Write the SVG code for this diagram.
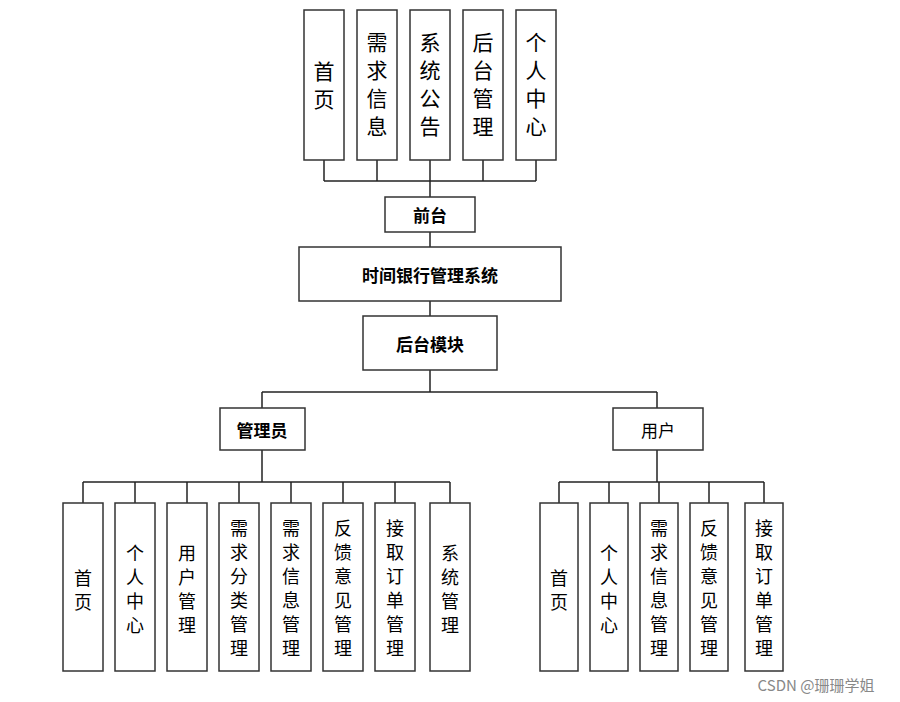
<svg xmlns="http://www.w3.org/2000/svg" width="900" height="702" viewBox="0 0 900 702">
<style>
rect{fill:#fff;stroke:#333;stroke-width:1.5}
text{font-family:"Noto Sans CJK SC","Liberation Sans",sans-serif;fill:#000;text-anchor:middle;dominant-baseline:central}
.v1{font-size:21px}
.v2{font-size:18px}
.b{font-size:17px;font-weight:bold}
.c line{stroke:#222;stroke-width:1.5}
</style>
<rect x="0" y="0" width="900" height="702" style="stroke:none"/>
<g class="c">
<line x1="324" y1="160" x2="324" y2="181"/><line x1="377" y1="160" x2="377" y2="181"/><line x1="430" y1="160" x2="430" y2="197"/><line x1="483" y1="160" x2="483" y2="181"/><line x1="536" y1="160" x2="536" y2="181"/>
<line x1="324" y1="181" x2="536" y2="181"/>
<line x1="430" y1="232" x2="430" y2="247"/><line x1="430" y1="301" x2="430" y2="316"/><line x1="430" y1="370" x2="430" y2="392"/>
<line x1="262" y1="392" x2="657" y2="392"/><line x1="262" y1="392" x2="262" y2="408"/><line x1="657" y1="392" x2="657" y2="408"/>
<line x1="262" y1="450" x2="262" y2="482"/><line x1="83" y1="482" x2="450" y2="482"/>
<line x1="83" y1="482" x2="83" y2="503"/><line x1="135" y1="482" x2="135" y2="503"/><line x1="187" y1="482" x2="187" y2="503"/><line x1="239" y1="482" x2="239" y2="503"/><line x1="291" y1="482" x2="291" y2="503"/><line x1="343" y1="482" x2="343" y2="503"/><line x1="395" y1="482" x2="395" y2="503"/><line x1="450" y1="482" x2="450" y2="503"/>
<line x1="657" y1="450" x2="657" y2="482"/><line x1="559" y1="482" x2="764" y2="482"/>
<line x1="559" y1="482" x2="559" y2="503"/><line x1="609" y1="482" x2="609" y2="503"/><line x1="659" y1="482" x2="659" y2="503"/><line x1="709" y1="482" x2="709" y2="503"/><line x1="764" y1="482" x2="764" y2="503"/>
</g>
<g id="t1"><rect x="304" y="10" width="40" height="150"/><text class="v1" x="324" y="70">首</text><text class="v1" x="324" y="98">页</text></g>
<g id="t2"><rect x="357" y="10" width="40" height="150"/><text class="v1" x="377" y="41">需</text><text class="v1" x="377" y="69">求</text><text class="v1" x="377" y="97">信</text><text class="v1" x="377" y="125">息</text></g>
<g id="t3"><rect x="410" y="10" width="40" height="150"/><text class="v1" x="430" y="41">系</text><text class="v1" x="430" y="69">统</text><text class="v1" x="430" y="97">公</text><text class="v1" x="430" y="125">告</text></g>
<g id="t4"><rect x="463" y="10" width="40" height="150"/><text class="v1" x="483" y="41">后</text><text class="v1" x="483" y="69">台</text><text class="v1" x="483" y="97">管</text><text class="v1" x="483" y="125">理</text></g>
<g id="t5"><rect x="516" y="10" width="40" height="150"/><text class="v1" x="536" y="41">个</text><text class="v1" x="536" y="69">人</text><text class="v1" x="536" y="97">中</text><text class="v1" x="536" y="125">心</text></g>
<g id="qt"><rect x="385" y="197" width="90" height="35"/><text class="b" x="430" y="214.5">前台</text></g>
<g id="sys"><rect x="299" y="247" width="262" height="54"/><text class="b" x="430" y="274">时间银行管理系统</text></g>
<g id="ht"><rect x="363" y="316" width="134" height="54"/><text class="b" x="430" y="343">后台模块</text></g>
<g id="adm"><rect x="220" y="408" width="85" height="42"/><text class="b" x="262" y="429">管理员</text></g>
<g id="usr"><rect x="613" y="408" width="90" height="42"/><text style="font-size:17px" x="658" y="429">用户</text></g>
<g id="a1"><rect x="63" y="503" width="40" height="168"/><text class="v2" x="83" y="577">首</text><text class="v2" x="83" y="601">页</text></g>
<g id="a2"><rect x="115" y="503" width="40" height="168"/><text class="v2" x="135" y="552">个</text><text class="v2" x="135" y="576">人</text><text class="v2" x="135" y="600">中</text><text class="v2" x="135" y="624">心</text></g>
<g id="a3"><rect x="167" y="503" width="40" height="168"/><text class="v2" x="187" y="552">用</text><text class="v2" x="187" y="576">户</text><text class="v2" x="187" y="600">管</text><text class="v2" x="187" y="624">理</text></g>
<g id="a4"><rect x="219" y="503" width="40" height="168"/><text class="v2" x="239" y="527">需</text><text class="v2" x="239" y="551">求</text><text class="v2" x="239" y="575">分</text><text class="v2" x="239" y="599">类</text><text class="v2" x="239" y="623">管</text><text class="v2" x="239" y="647">理</text></g>
<g id="a5"><rect x="271" y="503" width="40" height="168"/><text class="v2" x="291" y="527">需</text><text class="v2" x="291" y="551">求</text><text class="v2" x="291" y="575">信</text><text class="v2" x="291" y="599">息</text><text class="v2" x="291" y="623">管</text><text class="v2" x="291" y="647">理</text></g>
<g id="a6"><rect x="323" y="503" width="40" height="168"/><text class="v2" x="343" y="527">反</text><text class="v2" x="343" y="551">馈</text><text class="v2" x="343" y="575">意</text><text class="v2" x="343" y="599">见</text><text class="v2" x="343" y="623">管</text><text class="v2" x="343" y="647">理</text></g>
<g id="a7"><rect x="375" y="503" width="40" height="168"/><text class="v2" x="395" y="527">接</text><text class="v2" x="395" y="551">取</text><text class="v2" x="395" y="575">订</text><text class="v2" x="395" y="599">单</text><text class="v2" x="395" y="623">管</text><text class="v2" x="395" y="647">理</text></g>
<g id="a8"><rect x="430" y="503" width="40" height="168"/><text class="v2" x="450" y="552">系</text><text class="v2" x="450" y="576">统</text><text class="v2" x="450" y="600">管</text><text class="v2" x="450" y="624">理</text></g>
<g id="u1"><rect x="540" y="503" width="38" height="168"/><text class="v2" x="559" y="577">首</text><text class="v2" x="559" y="601">页</text></g>
<g id="u2"><rect x="590" y="503" width="38" height="168"/><text class="v2" x="609" y="552">个</text><text class="v2" x="609" y="576">人</text><text class="v2" x="609" y="600">中</text><text class="v2" x="609" y="624">心</text></g>
<g id="u3"><rect x="640" y="503" width="38" height="168"/><text class="v2" x="659" y="527">需</text><text class="v2" x="659" y="551">求</text><text class="v2" x="659" y="575">信</text><text class="v2" x="659" y="599">息</text><text class="v2" x="659" y="623">管</text><text class="v2" x="659" y="647">理</text></g>
<g id="u4"><rect x="690" y="503" width="38" height="168"/><text class="v2" x="709" y="527">反</text><text class="v2" x="709" y="551">馈</text><text class="v2" x="709" y="575">意</text><text class="v2" x="709" y="599">见</text><text class="v2" x="709" y="623">管</text><text class="v2" x="709" y="647">理</text></g>
<g id="u5"><rect x="745" y="503" width="38" height="168"/><text class="v2" x="764" y="527">接</text><text class="v2" x="764" y="551">取</text><text class="v2" x="764" y="575">订</text><text class="v2" x="764" y="599">单</text><text class="v2" x="764" y="623">管</text><text class="v2" x="764" y="647">理</text></g>
<text x="816" y="684" style="font-size:15px;fill:#888">CSDN @珊珊学姐</text>
</svg>
